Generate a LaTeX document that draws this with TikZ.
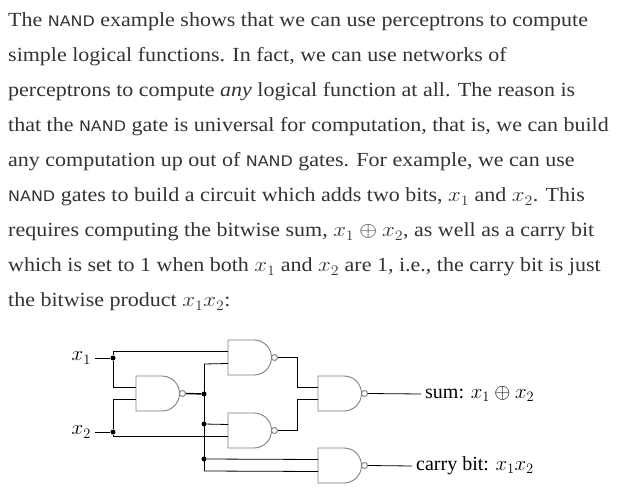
\documentclass[tikz,border=0pt]{standalone}
\usepackage{fontspec}
\setmainfont{Liberation Serif}
\newfontfamily\nandfont{DejaVu Sans}
\definecolor{txt}{HTML}{333333}
\definecolor{gate}{HTML}{808080}
\newcommand{\NAND}{{\nandfont\fontsize{14.5}{18}\selectfont NAND}}
\newcommand{\pline}[1]{\scalebox{1.1}[1]{#1}}
\tikzset{
  para/.style={anchor=base west,inner sep=0pt,text=txt,font=\fontsize{20}{23}\selectfont},
  gateline/.style={draw=gate,line width=0.9pt},
  wire/.style={draw=black,line width=0.8pt},
  junc/.style={circle,fill=black,inner sep=0pt,minimum size=5pt},
  lbl/.style={inner sep=0pt,font=\fontsize{20}{22}\selectfont}
}
% #1 name, #2 x, #3 y (top-left)
\newcommand{\nandgate}[3]{%
  \draw[gateline] (#2+26,#3) -- (#2,#3) -- (#2,#3+35) -- (#2+26,#3+35)
     arc[start angle=90,end angle=-90,radius=17.5];
  \draw[gateline,fill=white] (#2+46.5,#3+17.5) circle (3pt);
  \coordinate (#1-i1) at (#2,#3+11.5);
  \coordinate (#1-i2) at (#2,#3+23.5);
  \coordinate (#1-o) at (#2+49.5,#3+17.5);
}
\begin{document}
\begin{tikzpicture}[x=1pt,y=-1pt]
\useasboundingbox (0,0) rectangle (634,502);
\fill[white] (0,0) rectangle (634,502);
\node[para] (l1) at (8,27) {\pline{The \NAND{} example shows that we can use perceptrons to compute}};
\node[para] (l2) at (8,62) {\pline{simple logical functions. In fact, we can use networks of}};
\node[para] (l3) at (8,97) {\pline{perceptrons to compute \textit{any} logical function at all. The reason is}};
\node[para] (l4) at (8,132) {\pline{that the \NAND{} gate is universal for computation, that is, we can build}};
\node[para] (l5) at (8,167) {\pline{any computation up out of \NAND{} gates. For example, we can use}};
\node[para] (l6) at (8,202) {\pline{\NAND{} gates to build a circuit which adds two bits, $x_1$ and $x_2$. This}};
\node[para] (l7) at (8,237) {\pline{requires computing the bitwise sum, $x_1\oplus x_2$, as well as a carry bit}};
\node[para] (l8) at (8,272) {\pline{which is set to 1 when both $x_1$ and $x_2$ are 1, i.e., the carry bit is just}};
\node[para] (l9) at (8,307) {\pline{the bitwise product $x_1x_2$:}};

\nandgate{A}{136}{376}
\nandgate{B}{228}{340}
\nandgate{C}{228}{413}
\nandgate{D}{318}{376}
\nandgate{E}{318}{448}

\node[lbl,anchor=east] (x1) at (91,358) {$x_1$};
\node[lbl,anchor=east] (x2) at (91,432) {$x_2$};
\node[junc] (j1) at (113,358) {};
\node[junc] (j2) at (113,432) {};
\node[junc] (ja) at (204,394) {};
\node[junc] (jb) at (204,424) {};
\node[junc] (jc) at (204,459) {};
\coordinate (vbot) at (204,471);
\coordinate (vtop) at (204,364);

\draw[wire] (x1.east) ++(4,0) -- (j1);
\draw[wire] (x2.east) ++(4,0) -- (j2);
\draw[wire] (j1) |- (B-i1);
\draw[wire] (j1) |- (A-i1);
\draw[wire] (j2) |- (A-i2);
\draw[wire] (j2) |- (C-i2);
\draw[wire,line width=1.4pt] (A-o) -- (ja);
\draw[wire] (vtop) -- (vbot);
\draw[wire] (vtop) -- (B-i2);
\draw[wire] (jb) -- (C-i1);
\draw[wire] (jc) -- (E-i1);
\draw[wire] (vbot) -- (E-i2);
\draw[wire] (B-o) -- ++(20,0) |- (D-i1);
\draw[wire] (C-o) -- ++(20,0) |- (D-i2);
\node[lbl,anchor=west] (sum) at (425,394) {sum: $x_1\oplus x_2$};
\node[lbl,anchor=west] (carry) at (416,466) {carry bit: $x_1x_2$};
\draw[wire] (D-o) -- ([xshift=-4pt]sum.west);
\draw[wire] (E-o) -- ([xshift=-4pt]carry.west);
\end{tikzpicture}
\end{document}
